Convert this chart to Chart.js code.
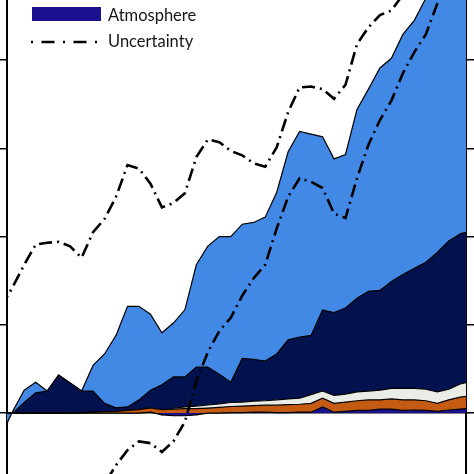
<!doctype html>
<html lang="en">
  <head>
    <meta charset="utf-8">
    <title>Atmosphere</title>
    <script src="https://cdn.jsdelivr.net/npm/chart.js@4/dist/chart.umd.min.js"></script>
    <style>
      body { margin: 0; background: #fff; }
      #Creator { width: 474px; height: 474px; }
    </style>
  </head>
  <body>
    <div id="Creator"><canvas id="fluxCanvas" width="474" height="474"></canvas></div>
    <script>
    // step index along the time axis (axis shows 0.5 .. 40.5)
    var steps = [0,1,2,3,4,5,6,7,8,9,10,11,12,13,14,15,16,17,18,19,20,
                 21,22,23,24,25,26,27,28,29,30,31,32,33,34,35,36,37,38,39,40,41];

    // layers, bottom to top
    var atmosphere = [0,0,0,0,0,0,0,0,0,0,0,0,0,0.01,-0.02,-0.03,-0.03,-0.02,0,0,0.005,
                      0.005,0.01,0.01,0.005,0.005,0.01,0.01,0.07,0.01,0.02,0.03,0.03,0.045,0.045,0.03,0.035,0.03,0.02,0.035,0.045,0.055];
    var orangeLayer = [0,0,0,0,0,0,0,0.005,0.01,0.015,0.02,0.03,0.04,0.05,0.04,0.045,0.05,0.05,0.057,0.065,0.07,
                       0.075,0.075,0.08,0.085,0.09,0.09,0.1,0.1,0.1,0.105,0.11,0.12,0.105,0.115,0.12,0.115,0.11,0.09,0.115,0.135,0.145];
    var whiteLayer = [0,0,0,0,0,0,0,0,0,0,0,0,0,0,0,0.01,0.02,0.03,0.035,0.04,0.045,
                      0.045,0.05,0.05,0.06,0.065,0.07,0.1,0.08,0.09,0.09,0.1,0.1,0.11,0.12,0.13,0.13,0.13,0.13,0.12,0.15,0.16];
    var navyLayer = [0,0,0.12,0.23,0.25,0.43,0.34,0.245,0.24,0.095,0.04,0.04,0.11,0.2,0.28,0.355,0.34,0.44,0.43,0.335,0.23,
                     0.495,0.475,0.45,0.52,0.67,0.69,0.67,0.92,0.94,0.975,1.06,1.13,1.13,1.21,1.29,1.36,1.44,1.58,1.68,1.7,1.71];
    var blueLayer = [-0.25,0.02,0.14,0.12,0,0,0,0,0.29,0.56,0.82,1.14,1.06,0.86,0.59,0.61,0.76,1.16,1.37,1.56,1.65,
                     1.52,1.55,1.63,1.83,2.13,2.33,2.28,1.96,1.74,1.74,2.14,2.29,2.52,2.53,2.72,2.81,2.99,3.08,3.1,3.17,3.23];

    // uncertainty band around the total
    var upperBound = [1.2,1.43,1.68,1.91,1.93,1.94,1.89,1.76,2.05,2.2,2.45,2.81,2.77,2.6,2.33,2.38,2.49,2.9,3.1,3.07,2.97,
                      2.92,2.83,2.79,3.01,3.41,3.69,3.7,3.67,3.56,3.72,4.18,4.37,4.51,4.56,4.74,4.81,5.11,5.2,5.4,5.55,5.7];
    var lowerBound = [-1.7,-1.39,-1.16,-1.21,-1.43,-1.08,-1.21,-1.26,-0.97,-0.8,-0.59,-0.42,-0.32,-0.34,-0.44,-0.32,-0.1,0.36,0.69,0.93,1.08,
                      1.33,1.53,1.68,2.09,2.45,2.66,2.62,2.55,2.26,2.21,2.66,3.04,3.32,3.54,3.85,4.09,4.29,4.64,4.9,5.1,5.3];

    var yTicks = [0, 1, 2, 3, 4];

    var colAtm = '#1b1190';
    var uncDash = [13, 5, 2, 5];

    function layer(label, data, color, fill) {
      return {
        label: label, data: data, stack: 'flux', fill: fill,
        backgroundColor: color, borderColor: '#000', borderWidth: 1.2,
        pointRadius: 0, tension: 0, order: 1
      };
    }
    function bound(label, data, stackName) {
      return {
        label: label, data: data, stack: stackName, fill: false,
        borderColor: '#000', borderWidth: 2.6, borderDash: uncDash,
        borderCapStyle: 'butt', pointRadius: 0, tension: 0, order: 0
      };
    }

    // legend drawn in the top left corner of the plot
    var cornerLegend = {
      id: 'cornerLegend',
      afterDraw: function(chart) {
        var ctx = chart.ctx;
        ctx.save();
        ctx.fillStyle = colAtm;
        ctx.fillRect(32, 7, 69, 14);
        ctx.strokeStyle = '#000';
        ctx.lineWidth = 2.6;
        ctx.setLineDash([2, 8.5, 13, 8.5]);
        ctx.beginPath();
        ctx.moveTo(31, 42);
        ctx.lineTo(98, 42);
        ctx.stroke();
        ctx.setLineDash([]);
        ctx.fillStyle = '#161616';
        ctx.font = '16.5px Lato';
        ctx.textBaseline = 'alphabetic';
        ctx.fillText('Atmosphere', 108, 21);
        ctx.fillText('Uncertainty', 108, 47);
        ctx.restore();
      }
    };

    var yBase = {
      min: -0.69, max: 4.68,
      afterBuildTicks: function(scale) { scale.ticks = yTicks.map(function(v) { return {value: v}; }); },
      ticks: { display: false },
      border: { display: true, color: '#000', width: 2 }
    };

    new Chart(document.getElementById('fluxCanvas'), {
      type: 'line',
      data: {
        labels: steps,
        datasets: [
          layer('Atmosphere', atmosphere, colAtm, 'origin'),
          layer('Orange', orangeLayer, '#c55b12', '-1'),
          layer('White', whiteLayer, '#e9ede5', '-1'),
          layer('Navy', navyLayer, '#03114f', '-1'),
          layer('Blue', blueLayer, '#4289e6', '-1'),
          bound('Uncertainty', upperBound, 'hi'),
          bound('Uncertainty low', lowerBound, 'lo')
        ]
      },
      options: {
        responsive: false,
        animation: false,
        layout: { padding: 0 },
        plugins: { legend: { display: false }, tooltip: { enabled: false } },
        scales: {
          x: { type: 'linear', min: 0.5, max: 40.5, display: false },
          y: Object.assign({}, yBase, {
            position: 'left', stacked: true,
            grid: {
              drawOnChartArea: true, drawTicks: true, tickLength: 7, tickColor: '#000', lineWidth: 1.5,
              color: function(c) { return c.tick && c.tick.value === 0 ? '#000' : 'rgba(0,0,0,0)'; }
            }
          }),
          y2: Object.assign({}, yBase, {
            position: 'right',
            grid: { drawOnChartArea: false, drawTicks: true, tickLength: 8, tickColor: '#000', lineWidth: 1.5, color: '#000' }
          })
        }
      },
      plugins: [cornerLegend]
    });
    </script>
  </body>
</html>
